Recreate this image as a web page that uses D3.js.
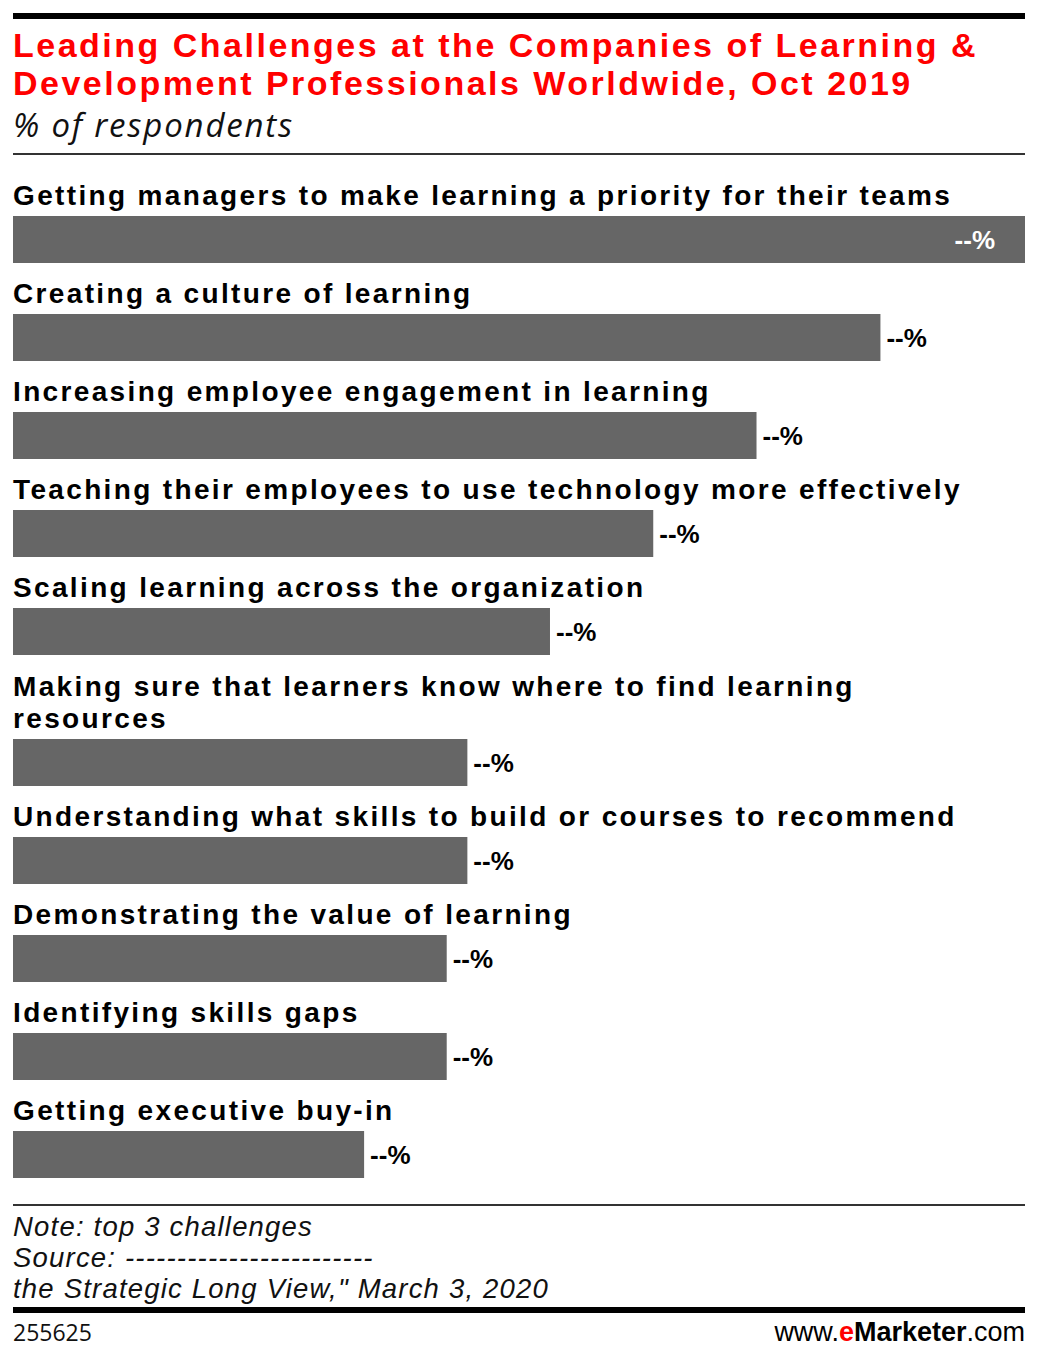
<!DOCTYPE html>
<html><head><meta charset="utf-8">
<script src="https://cdn.jsdelivr.net/npm/d3@7"></script>
<style>body{margin:0;background:#fff}svg{display:block}</style>
</head><body>
<script>
const categories = [
  ["Getting managers to make learning a priority for their teams"],
  ["Creating a culture of learning"],
  ["Increasing employee engagement in learning"],
  ["Teaching their employees to use technology more effectively"],
  ["Scaling learning across the organization"],
  ["Making sure that learners know where to find learning", "resources"],
  ["Understanding what skills to build or courses to recommend"],
  ["Demonstrating the value of learning"],
  ["Identifying skills gaps"],
  ["Getting executive buy-in"]
];
const values = [49, 42, 36, 31, 26, 22, 22, 21, 21, 17];
const valueLabels = ["--%","--%","--%","--%","--%","--%","--%","--%","--%","--%"];
const titleLines = ["Leading Challenges at the Companies of Learning &", "Development Professionals Worldwide, Oct 2019"];
const subtitle = "% of respondents";
const footerLines = ["Note: top 3 challenges", "Source: ------------------------", "the Strategic Long View,\" March 3, 2020"];

const W = 1038, H = 1360, L = 13, R = 1025;
const svg = d3.select("body").append("svg").attr("width", W).attr("height", H);
const F = "'Open Sans', 'Liberation Sans', Arial, sans-serif";
const FA = "'Liberation Sans', Arial, sans-serif";

function multiline(sel, lines, x, y, lh) {
  const t = sel.append("text").attr("x", x).attr("y", y);
  t.selectAll("tspan").data(lines).join("tspan")
    .attr("x", x).attr("dy", (d, i) => i === 0 ? 0 : lh).text(d => d);
  return t;
}

svg.append("rect").attr("x", L).attr("y", 13).attr("width", R - L).attr("height", 6).attr("fill", "#000");
multiline(svg, titleLines, L, 57, 38)
  .attr("font-family", FA).attr("font-weight", "bold").attr("font-size", 34)
  .attr("letter-spacing", 2.5).attr("fill", "#ff0000");
svg.append("text").attr("x", L).attr("y", 137).attr("font-family", F).attr("font-style", "italic")
  .attr("font-size", 33).attr("letter-spacing", 1.8).attr("fill", "#111").text(subtitle);
svg.append("rect").attr("x", L).attr("y", 153).attr("width", R - L).attr("height", 2).attr("fill", "#333");

const x = d3.scaleLinear().domain([0, d3.max(values)]).range([L, R]);
const barH = 47;
const rows = [];
categories.forEach((c, i) => {
  const barY = i === 0 ? 216 : rows[i - 1].barY + 98 + (c.length - 1) * 33;
  rows.push({c, v: values[i], lab: valueLabels[i], barY, labY: barY - 11 - (c.length - 1) * 32});
});

const g = svg.append("g");
rows.forEach((r, i) => {
  multiline(g, r.c, L, r.labY, 32)
    .attr("font-family", FA).attr("font-weight", "bold").attr("font-size", 28)
    .attr("letter-spacing", 2.35).attr("fill", "#000");
  g.append("rect").attr("x", x(0)).attr("y", r.barY).attr("width", x(r.v) - x(0)).attr("height", barH).attr("fill", "#666666");
  const inside = i === 0;
  g.append("text")
    .attr("x", inside ? x(r.v) - 30 : x(r.v) + 6)
    .attr("y", r.barY + barH / 2 + 9)
    .attr("text-anchor", inside ? "end" : "start")
    .attr("font-family", FA).attr("font-weight", "bold").attr("font-size", 26)
    .attr("fill", inside ? "#fff" : "#000").text(r.lab);
});

svg.append("rect").attr("x", L).attr("y", 1204).attr("width", R - L).attr("height", 2).attr("fill", "#333");
multiline(svg, footerLines, L, 1236, 31)
  .attr("font-family", FA).attr("font-style", "italic").attr("font-size", 27.5)
  .attr("letter-spacing", 1.2).attr("fill", "#111");
svg.append("rect").attr("x", L).attr("y", 1307).attr("width", R - L).attr("height", 6).attr("fill", "#000");
svg.append("text").attr("x", L).attr("y", 1341).attr("font-family", F).attr("font-size", 23).attr("fill", "#111").text("255625");
const brand = svg.append("text").attr("x", R).attr("y", 1341).attr("text-anchor", "end")
  .attr("font-family", FA).attr("font-size", 27).attr("fill", "#000");
brand.append("tspan").text("www.");
brand.append("tspan").attr("fill", "#ff0000").attr("font-weight", "bold").text("e");
brand.append("tspan").attr("font-weight", "bold").text("Marketer");
brand.append("tspan").text(".com");
</script>
</body></html>
